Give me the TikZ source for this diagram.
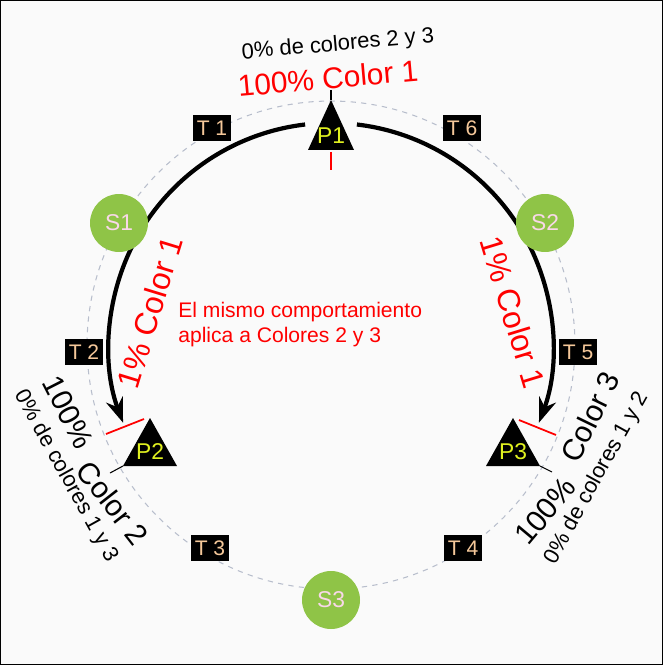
\documentclass[tikz,border=0pt]{standalone}
\usepackage{fontspec}
\setmainfont{Liberation Sans}
\usetikzlibrary{arrows.meta}
\definecolor{sgreen}{HTML}{8FC447}
\definecolor{peach}{HTML}{F5C89A}
\definecolor{pyel}{HTML}{E0F020}
\definecolor{dashc}{HTML}{B8BECC}
\definecolor{spink}{HTML}{F8D8E8}
\begin{document}
\begin{tikzpicture}[x=0.02cm,y=-0.02cm,
  tbox/.style={fill=black,text=peach,inner sep=0pt,minimum width=0.76cm,minimum height=0.52cm,font=\fontsize{12pt}{12pt}\selectfont},
  sdot/.style={circle,fill=sgreen,text=spink,minimum size=1.16cm,inner sep=0pt,font=\fontsize{13pt}{13pt}\selectfont},
  plab/.style={text=pyel,font=\fontsize{13pt}{13pt}\selectfont,inner sep=0pt},
  arcline/.style={line width=2.4pt},
  redt/.style={red,line width=1pt},
  blkt/.style={black,line width=0.6pt},
  big/.style={font=\fontsize{17pt}{17pt}\selectfont,inner sep=0pt},
  small/.style={font=\fontsize{12.5pt}{12.5pt}\selectfont,inner sep=0pt}]
\fill[black!2] (0,0) rectangle (663,665);
\useasboundingbox (0,0) rectangle (663,665);
\draw[black,line width=1pt] (0.5,0.5) rectangle (662.5,664.5);
\coordinate (c) at (331,345);
% dashed circle
\draw[dashc,dashed,line width=0.6pt] (c) circle [radius=4.88cm];
% triangles
\fill (331,100) -- (354,150) -- (308,150) -- cycle;
\fill (150,418) -- (177,466) -- (123,466) -- cycle;
\fill (513,418) -- (540,466) -- (486,466) -- cycle;
\node[plab] (P1) at (331,136) {P1};
\node[plab] (P2) at (150,452) {P2};
\node[plab] (P3) at (513,452) {P3};
% ticks
\draw[blkt] (331,100) -- (331,90);
\draw[redt] (331,152) -- (331,170);
\draw[redt] (106,434) -- (144,419);
\draw[blkt] (110,473) -- (123,466);
\draw[redt] (519,420) -- (556,435);
\draw[blkt] (540,466) -- (552,472);
% arcs
\coordinate (a1) at (305.1,124.5);
\coordinate (a2) at (356.9,124.5);
\draw[arcline,-{Stealth[length=14pt,width=10pt]}] (a1) arc[start angle=-96.7,end angle=-200.5,radius=222] coordinate (e1);
\draw[arcline,-{Stealth[length=14pt,width=10pt]}] (a2) arc[start angle=-83.3,end angle=20.5,radius=222] coordinate (e2);
% S circles
\node[sdot] (S1) at (119,223) {S1};
\node[sdot] (S2) at (545,223) {S2};
\node[sdot] (S3) at (331,600) {S3};
% T boxes
\node[tbox] (T1) at (212,128) {T 1};
\node[tbox] (T6) at (462,128) {T 6};
\node[tbox] (T2) at (84,352) {T 2};
\node[tbox] (T5) at (578,352) {T 5};
\node[tbox] (T3) at (210,548) {T 3};
\node[tbox] (T4) at (463,548) {T 4};
% texts
\node[small,rotate=5] (t0) at (338,45) {0\% de colores 2 y 3};
\node[big,red,rotate=5] (t1) at (328,78) {100\% Color 1};
\node[red,align=left,anchor=north west,inner sep=0pt,font=\fontsize{12pt}{14pt}\selectfont] (t2) at (178,302) {El mismo comportamiento\\aplica a Colores 2 y 3};
\node[big,red,rotate=73,font=\fontsize{18pt}{18pt}\selectfont] (t3) at (150,312) {1\% Color 1};
\node[big,red,rotate=-73,font=\fontsize{18pt}{18pt}\selectfont] (t4) at (513,312) {1\% Color 1};
\node[big,rotate=-63] (t5) at (68,412) {100\%};
\node[big,rotate=-52] (t6) at (113,503) {Color 2};
\node[small,rotate=-61] (t7) at (66,476) {0\% de colores 1 y 3};
\node[big,rotate=64] (t8) at (590,417) {Color 3};
\node[big,rotate=50] (t9) at (545,511) {100\%};
\node[small,rotate=61] (t10) at (597,478) {0\% de colores 1 y 2};
\end{tikzpicture}
\end{document}
